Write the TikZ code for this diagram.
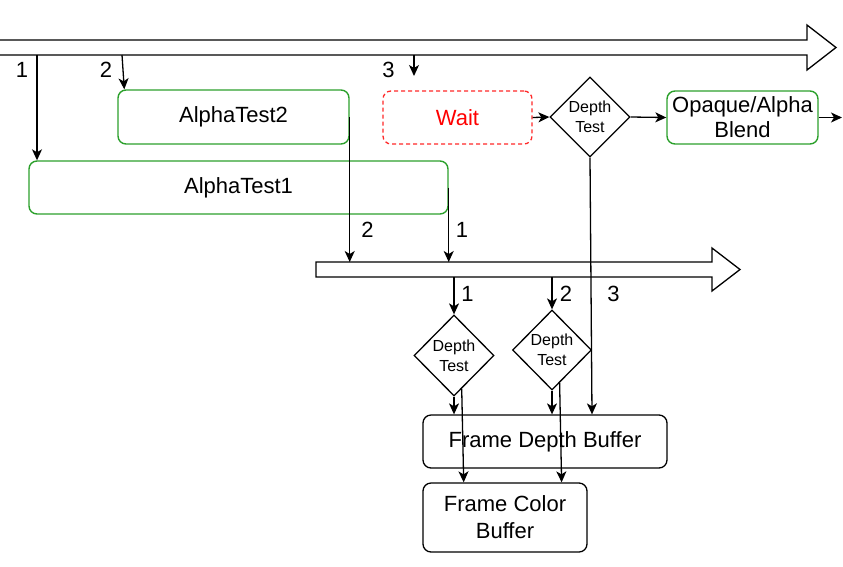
\documentclass[tikz,border=0pt]{standalone}
\usepackage{fontspec}
\setmainfont{Liberation Sans}
\usetikzlibrary{shapes.geometric,arrows.meta}

\definecolor{stagegreen}{RGB}{44,160,44}
\definecolor{waitred}{RGB}{255,40,40}

\begin{document}
\begin{tikzpicture}[x=1pt,y=-1pt,line width=1.3pt,
    stagebox/.style={draw=stagegreen, line width=1.4pt, rounded corners=8pt, inner sep=0pt, align=center, font=\fontsize{22}{25}\selectfont},
    bufbox/.style={draw=black, rounded corners=8pt, inner sep=0pt, align=center, font=\fontsize{22}{27}\selectfont},
    testnode/.style={diamond, draw=black, inner sep=0pt, aspect=1, align=center, font=\fontsize{16}{20}\selectfont},
    numlabel/.style={inner sep=0pt, font=\fontsize{22}{22}\selectfont},
    flow/.style={-{Stealth[length=11pt,width=10pt,inset=3pt]}}]

\useasboundingbox (0,0) rectangle (843,566);

%%%%%%%%%%%%%%%%%%%% Bus arrows %%%%%%%%%%%%%%%%%%%%%%%%%%

\draw (-5,40) -- (807,40) -- (807,25) -- (836,47.5) -- (807,70) -- (807,55) -- (-5,55) -- cycle;
\draw (316,262) -- (712,262) -- (712,248) -- (740,269.5) -- (712,291) -- (712,277) -- (316,277) -- cycle;

%bus taps
\coordinate (t1) at (37,55);
\coordinate (t2) at (122,55);
\coordinate (t3) at (414,55);
\coordinate (t3end) at (414,76);
\coordinate (m1) at (454,277);
\coordinate (m2) at (552,277);
\coordinate (midtop) at (0,262);
\coordinate (out) at (842,117.5);

%%%%%%%%%%%%%%%%%%%% Stages %%%%%%%%%%%%%%%%%%%%%%%%%%

\node[stagebox, minimum width=231pt, minimum height=54pt] (at2) at (233.5,117) {AlphaTest2};
\node[stagebox, minimum width=419pt, minimum height=53pt] (at1) at (238.5,187.5) {AlphaTest1};
\node[draw=waitred, dash pattern=on 4pt off 3pt, rounded corners=8pt, text=red, inner sep=0pt, minimum width=149pt, minimum height=53pt, font=\fontsize{22}{25}\selectfont] (wait) at (457.5,117.5) {Wait};
\node[stagebox, minimum width=151pt, minimum height=53pt] (blend) at (742.5,117.5) {Opaque/Alpha\\Blend};

%depth tests
\node[testnode, minimum width=80pt, minimum height=80pt] (dt0) at (590,117) {Depth\\Test};
\node[testnode, minimum width=80pt, minimum height=81pt] (dt1) at (454,355.5) {Depth\\Test};
\node[testnode, minimum width=79pt, minimum height=80pt] (dt2) at (552,350) {Depth\\Test};

%buffers
\node[bufbox, minimum width=244pt, minimum height=53pt] (fdb) at (545,441.5) {Frame Depth Buffer};
\node[bufbox, minimum width=164pt, minimum height=69pt] (fcb) at (505,517.5) {Frame Color\\Buffer};

%%%%%%%%%%%%%%%%%%%% Numbers %%%%%%%%%%%%%%%%%%%%%%%%%%

\foreach \index/\x/\y in {1/22/70, 2/106/70, 3/388.5/70, 2/367.5/229.5, 1/462/229.5, 1/467.5/293.5, 2/566/293.5, 3/613.5/293.5}
{
    \node[numlabel] at (\x,\y) {\index};
}

%%%%%%%%%%%%%%%%%%%% Connectors %%%%%%%%%%%%%%%%%%%%%%%%%%

\path [flow] (t1) edge (t1 |- at1.north);
\path [flow] (t2) edge ([xshift=7pt]at2.north west);
\path [flow] (t3) edge (t3end);

\path [flow] (at2.east) edge (at2.east |- midtop);
\path [flow] (at1.east) edge (at1.east |- midtop);

\path [flow] (wait.east) edge (dt0.west);
\path [flow] (dt0.east) edge (blend.west);
\path [flow] (blend.east) edge (out);
\path [flow] (dt0.south) edge ([xshift=2pt]dt0.south |- fdb.north);

\foreach \index in {1,2}
{
    \path [flow] (m\index) edge (dt\index.north);
    \path [flow] (dt\index.south) edge (dt\index.south |- fdb.north);
    \path [flow] (dt\index.-77) edge ([xshift=2pt]dt\index.-77 |- fcb.north);
}

\end{tikzpicture}
\end{document}
